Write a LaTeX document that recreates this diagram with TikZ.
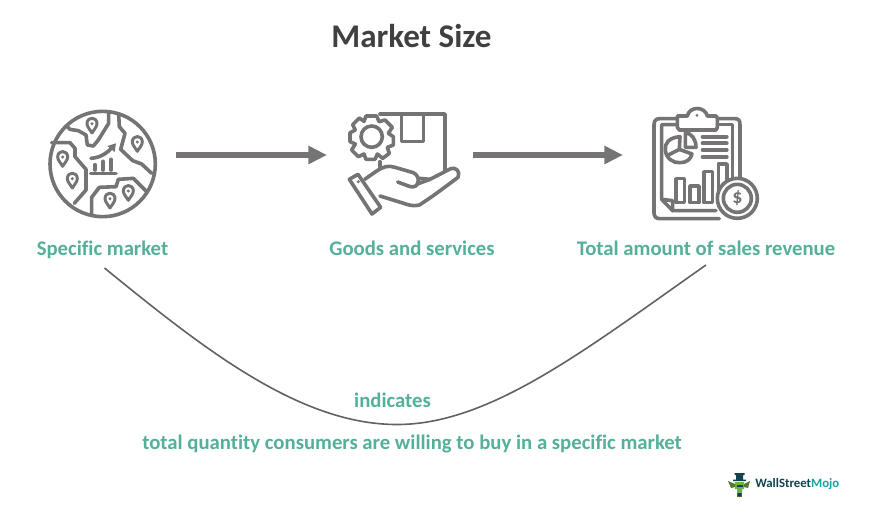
\documentclass[tikz,border=0pt]{standalone}
\usepackage{fontspec}
\setmainfont{Carlito}[Ligatures=NoCommon]
\usetikzlibrary{arrows.meta}
\definecolor{icongray}{HTML}{757373}
\definecolor{labgreen}{HTML}{54B09A}
\definecolor{titlegray}{HTML}{404040}
\definecolor{wsmdark}{HTML}{12414F}
\definecolor{wsmteal}{HTML}{14A3A3}
\definecolor{wsmgreen}{HTML}{6FB23F}
\tikzset{
  x=.75pt,y=-.75pt,
  lab/.style={font=\fontsize{15.55pt}{18pt}\bfseries\selectfont,text=labgreen,inner sep=0pt,anchor=base},
  flow/.style={draw=icongray,line width=3.8pt,-{Triangle[length=14pt,width=13pt]},fill=icongray},
  ico/.style={draw=icongray,line width=2.7pt,line join=round,line cap=round},
  zoomed/.style={x=.25pt,y=-.25pt},
}
\begin{document}
\begin{tikzpicture}
\useasboundingbox (0,0) rectangle (871,519);
\fill[white] (0,0) rectangle (871,519);
\node[font=\fontsize{24.8pt}{28pt}\bfseries\selectfont,text=titlegray,inner sep=0pt,anchor=base] (title) at (411.5,47) {Market Size};
% labels
\node[lab] (l1) at (102.5,255) {Specific market};
\node[lab] (l2) at (412,255) {Goods and services};
\node[lab] (l3) at (706,255) {Total amount of sales revenue};
\node[lab] (l4) at (392.5,407) {indicates};
\node[lab] (l5) at (412,449) {total quantity consumers are willing to buy in a specific market};
% globe
\begin{scope}[shift={(30,90)},zoomed]
\draw[ico] (218,222) circle (158);
\draw[ico] (236,68) -- (236,100) -- (205,150) -- (190,168) -- (172,165) -- (168,135) -- (145,122) -- (120,118) -- (110,108);
\draw[ico] (266,72) -- (268,110) -- (285,130) -- (272,178) -- (308,212) -- (335,222) -- (365,250);
\draw[ico] (65,158) -- (120,158) -- (135,175) -- (135,200) -- (168,238) -- (168,300) -- (133,340);
\draw[ico] (185,375) -- (185,322) -- (208,292) -- (258,290) -- (265,268) -- (310,265) -- (350,305);
% pins
\foreach \px/\py in {186/105,322/160,98/205,127/270,295/307,240/330}{
  \draw[ico,line width=2.2pt] (\px-15,\py-4) .. controls (\px-15,\py-26) and (\px+15,\py-26) .. (\px+15,\py-4) .. controls (\px+15,\py+6) and (\px+5,\py+14) .. (\px,\py+24) .. controls (\px-5,\py+14) and (\px-15,\py+6) .. (\px-15,\py-4) -- cycle;
  \fill[icongray] (\px,\py-4) circle (5);
}
% chart
\draw[ico] (182,251) -- (258,251);
\draw[ico] (195,240) -- (195,224) (219,240) -- (219,214) (243,240) -- (243,208);
\draw[ico] (183,205) .. controls (210,203) and (232,190) .. (248,170);
\fill[icongray] (258,160) -- (254,186) -- (232,168) -- cycle;
\end{scope}
% hand and box
\begin{scope}[shift={(330,90)},zoomed]
\draw[ico] (150,72) -- (345,72) -- (345,240);
\draw[ico] (150,215) -- (150,236);
\draw[ico] (215,72) -- (215,155) -- (280,155) -- (280,72);
% gear
\draw[ico] (125,140) circle (32);
\draw[ico] (108,78) -- (140,78) -- (147,95) -- (165,90) -- (187,112) -- (175,130) -- (190,140) -- (190,165) -- (172,172) -- (178,190) -- (158,205) -- (142,192) -- (135,208) -- (108,208) -- (102,192) -- (85,200) -- (65,180) -- (76,162) -- (60,155) -- (60,128) -- (76,120) -- (68,104) -- (88,84) -- (102,94) -- cycle;
% hand
\draw[ico] (104,268) -- (140,243) .. controls (160,230) and (175,225) .. (195,232) -- (250,248) .. controls (265,255) and (268,270) .. (262,282) .. controls (258,292) and (245,292) .. (235,288) -- (203,276);
\draw[ico] (268,265) -- (300,268) -- (362,236) .. controls (378,230) and (392,245) .. (384,262) .. controls (340,295) and (300,325) .. (268,345) .. controls (250,350) and (235,345) .. (215,338) -- (150,318);
\draw[ico] (262,282) -- (300,268);
\draw[ico] (58,268) -- (84,253) -- (152,352) -- (126,372) -- cycle;
\fill[icongray] (85,275) circle (5);
\end{scope}
% clipboard
\begin{scope}[shift={(630,90)},zoomed]
\draw[ico] (268,386) -- (90,386) .. controls (78,386) and (72,380) .. (72,368) -- (72,104) .. controls (72,92) and (78,86) .. (90,86) -- (142,86);
\draw[ico] (262,86) -- (315,86) .. controls (326,86) and (330,92) .. (330,104) -- (330,270);
\draw[ico] (142,104) -- (95,104) -- (95,328) -- (128,362) -- (258,362);
\draw[ico] (262,104) -- (308,104) -- (308,265);
\draw[ico] (95,328) -- (128,332) -- (128,362);
\draw[ico] (142,78) -- (172,78) .. controls (178,48) and (225,48) .. (232,78) -- (258,78) -- (262,84) -- (262,112) -- (258,120) -- (148,120) -- (142,112) -- cycle;
\fill[icongray] (201,76) circle (4.5);
% pie
\draw[ico] (150,140) .. controls (118,142) and (103,160) .. (106,180) .. controls (108,205) and (130,220) .. (150,218) .. controls (170,218) and (182,208) .. (186,192) -- (148,178) -- cycle;
\draw[ico] (148,178) -- (113,196);
\draw[ico] (166,128) -- (166,172) -- (198,172) .. controls (198,148) and (185,130) .. (166,128) -- cycle;
% list lines
\draw[ico,line width=3pt] (218,140) -- (290,140) (218,160) -- (290,160) (218,180) -- (290,180) (218,201) -- (290,201);
% bars
\draw[ico] (138,338) -- (138,266) -- (164,266) -- (164,338) -- cycle;
\draw[ico] (180,338) -- (180,288) -- (207,288) -- (207,338) -- cycle;
\draw[ico] (222,338) -- (222,245) -- (248,245) -- (248,338) -- cycle;
\draw[ico] (265,300) -- (265,222) -- (291,222) -- (291,270);
% coin
\draw[ico,fill=white] (322,325) circle (60);
\draw[ico] (322,325) circle (42);
\node[font=\fontsize{15pt}{15pt}\bfseries\selectfont,text=icongray,inner sep=0pt] (dollar) at (322,325) {\$};
\end{scope}
% arrows
\coordinate (a1s) at (176,155);
\coordinate (a1e) at (327,155);
\coordinate (a2s) at (473,155);
\coordinate (a2e) at (623,155);
\draw[flow] (a1s) -- (a1e);
\draw[flow] (a2s) -- (a2e);
% arc
\coordinate (cs) at (104.5,268);
\coordinate (ce) at (706,265);
\draw[draw=icongray!85!black,line width=1.2pt] (cs) .. controls (205,350) and (300,424.5) .. (397,424.5) .. controls (490,424.5) and (585,350) .. (ce);
% logo
\begin{scope}[shift={(710,460)}]
\fill[wsmdark] (24.5,13) rectangle (34.5,15) (26,15) rectangle (33,20) (23,19.5) rectangle (36,21);
\fill[wsmgreen] (25,22) rectangle (34,29) (27,29) rectangle (32,33);
\fill[wsmgreen!70!black] (18,21) -- (25,24) -- (25,27) -- (21,28) -- cycle (40,21) -- (34,24) -- (34,27) -- (38,28) -- cycle;
\fill[wsmdark] (26.5,25) rectangle (32.5,27);
\fill[wsmgreen!60!black] (27,33) rectangle (32,37);
\fill[wsmdark] (28,33) rectangle (31,36);
\node[font=\fontsize{9.6pt}{11pt}\bfseries\selectfont,inner sep=0pt,anchor=west] (wsm) at (45,24.5) {\textcolor{wsmdark}{WallStreet}\textcolor{wsmteal}{Mojo}};
\end{scope}
\end{tikzpicture}
\end{document}
